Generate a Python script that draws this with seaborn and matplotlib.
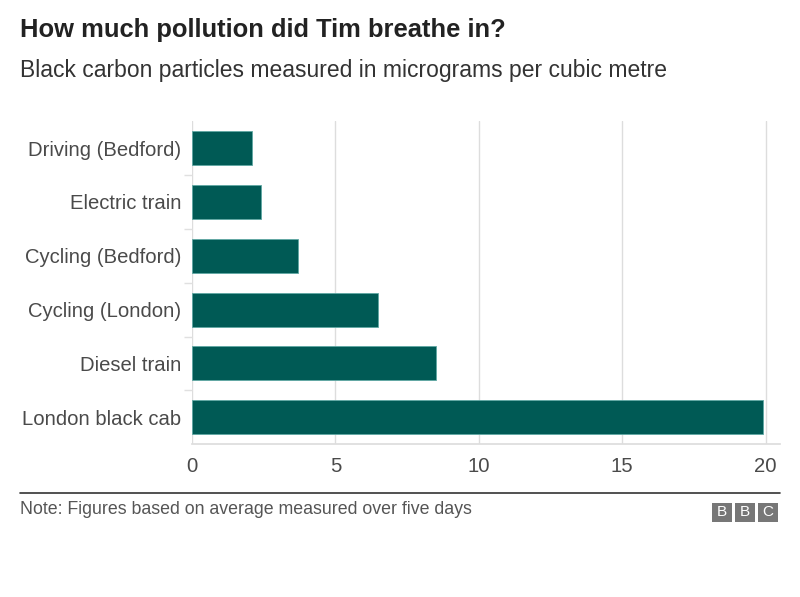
import matplotlib
matplotlib.use("Agg")
import matplotlib.pyplot as plt
import seaborn as sns
import pandas as pd
from matplotlib.patches import Rectangle

categories = ["Driving (Bedford)", "Electric train", "Cycling (Bedford)",
              "Cycling (London)", "Diesel train", "London black cab"]
values = [2.1, 2.4, 3.7, 6.5, 8.5, 19.9]
xticks = [0, 5, 10, 15, 20]

df = pd.DataFrame({"mode": categories, "value": values})

sns.set_theme(style="white")
plt.rcParams['font.family'] = ['Liberation Sans', 'DejaVu Sans']

fig = plt.figure(figsize=(8, 5.97), dpi=100)
ax = fig.add_axes([0.24, 0.256, 0.735, 0.541])

sns.barplot(data=df, y="mode", x="value", color="#005a55", width=0.63,
            edgecolor="#5fa8a4", linewidth=0.6, saturation=1, ax=ax)

ax.set_xlim(0, 20.5)
ax.set_xticks(xticks)
ax.set_xticklabels([str(t) for t in xticks])
ax.set_ylim(5.5, -0.5)
ax.set_xlabel("")
ax.set_ylabel("")
ax.grid(axis="x", color="#dddddd", linewidth=1)
ax.set_axisbelow(True)
for s in ["top", "right", "left"]:
    ax.spines[s].set_visible(False)
ax.spines["bottom"].set_color("#dddddd")
ax.tick_params(axis="y", which="major", labelsize=14.6, length=0, pad=7.5)
ax.tick_params(axis="x", which="major", labelsize=14.6, length=0, pad=9)
ax.set_yticks([i + 0.5 for i in range(0, 5)], minor=True)
ax.tick_params(axis="y", which="minor", length=6, color="#e0e0e0", width=1,
               left=True)
for lbl in ax.get_xticklabels() + ax.get_yticklabels():
    lbl.set_color("#4a4a4a")

fig.text(0.025, 1 - 30/597, "How much pollution did Tim breathe in?", fontsize=18.4,
         fontweight="bold", color="#222222", va="center")
fig.text(0.025, 1 - 70/597, "Black carbon particles measured in micrograms per cubic metre",
         fontsize=16.5, color="#333333", va="center")

fig.add_artist(plt.Line2D([0.025, 0.975], [1 - 493/597, 1 - 493/597],
                          color="#333333", linewidth=1.2, transform=fig.transFigure))
fig.text(0.025, 1 - 510/597, "Note: Figures based on average measured over five days",
         fontsize=12.8, color="#555555", va="center")

# BBC logo
for i, ch in enumerate("BBC"):
    x0 = (712 + i * 23) / 800
    w = 20 / 800
    y0 = 1 - 522/597
    h = 19 / 597
    fig.add_artist(Rectangle((x0, y0), w, h, transform=fig.transFigure,
                             facecolor="#777777", edgecolor="none"))
    fig.text(x0 + w / 2, y0 + h / 2, ch, fontsize=11,
             color="white", ha="center", va="center")

fig.savefig("out.png", dpi=100)
